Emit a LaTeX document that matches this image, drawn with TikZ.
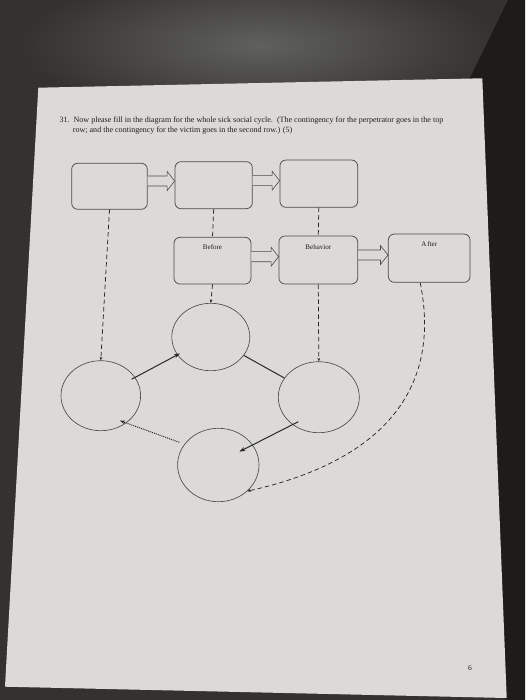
\documentclass[tikz,border=0pt]{standalone}
\usepackage{fontspec}
\setmainfont{Liberation Serif}
\usetikzlibrary{calc,shapes.geometric,arrows.meta}
\definecolor{bgdark}{RGB}{52,50,47}
\definecolor{bglight}{RGB}{96,96,94}
\definecolor{bgdarker}{RGB}{30,28,26}
\definecolor{paper}{RGB}{220,218,214}
\definecolor{ink}{RGB}{75,75,75}
\definecolor{inkdark}{RGB}{40,40,40}
\definecolor{textink}{RGB}{30,30,30}
\newcommand{\blockarr}[3]{%
  \draw[blockarrow]
    ($(#1.east |- #2.west)+(0,#3-5)$) -- ($(#2.west)+(-7.5,#3-5)$)
    -- ($(#2.west)+(-7.5,#3-9.5)$) -- ($(#2.west)+(0,#3)$)
    -- ($(#2.west)+(-7.5,#3+9.5)$) -- ($(#2.west)+(-7.5,#3+5)$)
    -- ($(#1.east |- #2.west)+(0,#3+5)$);}
\begin{document}
\begin{tikzpicture}[x=1pt,y=-1pt,
  box/.style={draw=ink, line width=0.75pt, rounded corners=6pt, inner sep=0pt},
  oval/.style={ellipse, draw=ink, line width=0.65pt, inner sep=0pt},
  blockarrow/.style={draw=ink, line width=0.6pt, fill=paper, line join=miter},
  dashline/.style={draw=inkdark, line width=0.75pt, dash pattern=on 4.5pt off 3pt},
  dasharrow/.style={dashline, -{Stealth[length=3.5pt,width=2.8pt]}},
  solidarrow/.style={draw=inkdark, line width=1pt, -{Stealth[length=6pt,width=4pt]}},
  solidline/.style={draw=inkdark, line width=1pt},
  dotarrow/.style={draw=inkdark, line width=1pt, dash pattern=on 1pt off 1pt, -{Stealth[length=5pt,width=3.5pt]}},
  titletext/.style={font=\fontsize{8.05}{9}\selectfont, text=textink, inner sep=0pt},
  boxtext/.style={font=\fontsize{7}{8}\selectfont, text=textink, inner sep=0pt}]
\useasboundingbox (0,0) rectangle (525,700);
% background
\fill[bgdark] (0,0) rectangle (525,700);
\shade[inner color=bglight, outer color=bgdark] (260,45) ellipse (240 and 75);
\fill[bgdarker] (508,0) -- (525,0) -- (525,700) -- (505,700) -- (468,82) -- cycle;
% paper
\fill[paper] (38.3,87.7) -- (482.3,78.3) -- (506.7,698) -- (5,686.7) -- cycle;
% title
\node[titletext, anchor=base west] (t1) at (59.3,122.5) {31.\ \ Now please fill in the diagram for the whole sick social cycle.\ \ (The contingency for the perpetrator goes in the top};
\node[titletext, anchor=base west] (t2) at (72.7,132.5) {row; and the contingency for the victim goes in the second row.) (5)};
% boxes
\node[box, minimum width=75.6pt, minimum height=46pt] (b1) at (109.5,186.3) {};
\node[box, minimum width=77.3pt, minimum height=47pt] (b2) at (213.7,185.2) {};
\node[box, minimum width=77.7pt, minimum height=47.3pt] (b3) at (318.8,183.7) {};
\node[box, minimum width=77pt, minimum height=46.7pt] (before) at (212.5,260.7) {};
\node[box, minimum width=78.7pt, minimum height=48pt] (behav) at (318.3,260) {};
\node[box, minimum width=81.7pt, minimum height=48.3pt] (after) at (429.2,258.2) {};
\node[boxtext] (lbefore) at ($(before.north)+(0,10)$) {Before};
\node[boxtext] (lbehav) at ($(behav.north)+(0,11)$) {Behavior};
\node[boxtext] (lafter) at ($(after.north)+(0,10)$) {A\kern0.9pt fter};
% block arrows
\blockarr{b1}{b2}{-4.2}
\blockarr{b2}{b3}{-3}
\blockarr{before}{behav}{-3.3}
\blockarr{behav}{after}{-3.2}
% ellipses
\node[oval, minimum width=78pt, minimum height=67.4pt] (etop) at (210.8,337) {};
\node[oval, minimum width=79.6pt, minimum height=70pt] (eleft) at (100.8,395.7) {};
\node[oval, minimum width=81pt, minimum height=71pt] (eright) at (318.8,397.2) {};
\node[oval, minimum width=81.4pt, minimum height=73.4pt] (ebot) at (218.3,465) {};
% dashed connectors
\draw[dasharrow] (b1.south) -- (eleft.north);
\draw[dashline] (b2.south) -- (before.north);
\draw[dashline] (b3.south) -- (behav.north);
\draw[dasharrow] (before.south) -- (etop.north);
\draw[dasharrow] (behav.south) -- (eright.north);
\coordinate (afterfoot) at ($(after.south)+(-9,0)$);
\draw[dasharrow] (afterfoot) .. controls (450,430) and (320,475) .. (ebot.-42);
% solid connectors
\draw[solidarrow] ($(eleft)!0.28!(etop)$) -- ($(eleft)!0.72!(etop)$);
\draw[solidline] (etop) -- (eright);
\draw[solidarrow] ($(eright)+(-20.5,24.5)$) -- ($(ebot)+(21,-13.3)$);
\draw[dotarrow] ($(ebot)+(-39,-22.7)$) -- ($(eleft)+(19.2,25)$);
% page number
\node[titletext, font=\fontsize{7.5}{8}\selectfont] (pnum) at (470,668) {6};
\end{tikzpicture}
\end{document}
